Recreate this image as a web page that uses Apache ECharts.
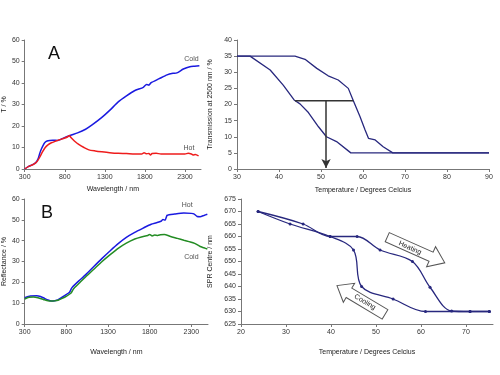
<!DOCTYPE html>
<html>
<head>
<meta charset="utf-8">
<script src="https://cdn.jsdelivr.net/npm/echarts@6/dist/echarts.min.js"></script>
<style>
  html, body { margin: 0; padding: 0; background: #fff; }
  #main { width: 500px; height: 375px; }
</style>
</head>
<body>
<div id="main"></div>
<script>
// panel A: transmission spectra (wavelength nm, T %)
var coldA = [[300,0],[350,1.2],[400,2],[430,2.7],[450,3.5],[470,5],[490,7.5],[511,9.5],[530,11],[552,12.3],[580,13],[613,13.3],[650,13.4],[715,13.3],[760,14],[857,15.5],[960,16.8],[1060,18.5],[1141,20.5],[1263,24],[1367,27.5],[1467,31.2],[1570,34],[1670,36.4],[1780,38],[1820,39.3],[1850,39],[1873,40],[1980,42],[2077,43.8],[2150,44.5],[2199,44.7],[2280,46.5],[2361,47.6],[2420,47.8],[2480,48]];
var hotA = [[300,0],[350,1.2],[400,2],[430,2.6],[460,3.8],[491,5.7],[520,7.8],[552,9.8],[590,11.2],[633,12.2],[690,13],[735,13.6],[800,14.4],[837,15],[857,15.6],[880,14.5],[920,13],[979,11.3],[1040,10],[1101,8.9],[1180,8.4],[1263,8],[1360,7.6],[1467,7.3],[1570,7.2],[1670,7],[1760,7],[1790,7.6],[1815,7.1],[1850,7.2],[1870,6.5],[1890,7.2],[1940,7.3],[2000,7],[2100,7],[2200,7],[2300,7],[2340,7.3],[2380,7],[2400,6.5],[2430,6.8],[2470,6.1]];

// panel B: reflectance spectra
var hotB = [[300,12.6],[367,13.4],[445,13.6],[490,13.2],[524,12.6],[580,11.5],[621,11],[660,11.2],[700,11.6],[740,12.6],[779,13.6],[838,15.2],[860,17],[876,17.9],[950,20.7],[1033,23.7],[1130,27.6],[1229,31.5],[1330,35.3],[1426,38.7],[1520,41.6],[1621,44],[1720,46],[1818,47.9],[1880,48.6],[1935,49.3],[1960,50.2],[1985,49.8],[2010,52.2],[2100,52.8],[2210,53.3],[2300,53.1],[2330,52.9],[2370,51.6],[2406,51.5],[2450,52.1],[2492,52.7]];
var coldB = [[300,12],[350,12.8],[406,13],[460,12.6],[524,11.8],[580,11.1],[621,11],[660,11.1],[700,11.4],[750,12.3],[798,13.3],[857,14.9],[880,16.5],[900,17.5],[960,19.8],[1033,22.7],[1130,26.3],[1229,30],[1330,33.4],[1426,36.4],[1520,38.8],[1621,40.8],[1700,41.8],[1778,42.5],[1800,43],[1830,42.3],[1860,42.7],[1896,42.5],[1930,42.8],[1975,43],[2050,42],[2132,41.1],[2210,40.2],[2288,39.4],[2340,38.7],[2406,37.2],[2450,36.6],[2492,36]];

// top right: transmission at 2500 nm vs temperature
var heatT = [[30,35],[43.8,35],[46.2,34],[49,31.2],[51.7,28.9],[54.1,27.6],[56.5,25],[57.7,21.2],[59.3,16.2],[60.5,12.1],[61.3,9.5],[62.9,9],[64.8,6.9],[67.1,5],[90,5]];
var coolT = [[90,5],[57.1,5],[53.7,8.5],[51.3,10],[49.4,13.1],[47,17.5],[45,20.2],[43.6,21.4],[41,26],[37.9,30.7],[33.1,35],[30,35]];
var midLine = [[43.8,21.2],[57.7,21.2]];
var midArrow = [[51.2,21.2],[51.2,0.3]];

// bottom right: SPR centre vs temperature
var heatS = [[23.8,670],[33.8,665],[39.8,660],[45.8,660],[50.9,654.6],[58.1,650],[62,639.7],[66.8,630.2],[70.9,630],[75.2,630]];
var coolS = [[75.2,630],[70.9,630],[61,630],[53.8,635],[46.8,640],[45,654.6],[39.8,660],[30.9,665],[23.8,670]];

var seriesLabels = [
  {grid: 0, text: 'Cold', at: [2380, 51]},
  {grid: 0, text: 'Hot', at: [2350, 9.6]},
  {grid: 2, text: 'Hot', at: [2250, 57]},
  {grid: 2, text: 'Cold', at: [2300, 32]}
];

var FONT = 'Liberation Sans';
var NAVY = '#28287e';

function valAxis(idx, min, max, interval, name, gap, extra) {
  var ax = {
    type: 'value', gridIndex: idx, min: min, max: max, interval: interval,
    name: name, nameLocation: 'middle', nameGap: gap,
    nameTextStyle: {fontFamily: FONT, fontSize: 7, color: '#222'},
    axisLine: {show: true, lineStyle: {color: '#777', width: 1}},
    axisTick: {show: true, length: 3, lineStyle: {color: '#777'}},
    axisLabel: {fontFamily: FONT, fontSize: 7, color: '#333', margin: 5,
      showMaxLabel: (max - min) % interval === 0,
      formatter: function (v) { return String(v); }},
    splitLine: {show: false}
  };
  if (extra) Object.assign(ax, extra);
  return ax;
}

function arrowPts(L, bw, hw, hl, dir) {
  var p = [[-L/2,-bw],[L/2-hl,-bw],[L/2-hl,-hw],[L/2,0],[L/2-hl,hw],[L/2-hl,bw],[-L/2,bw]];
  return p.map(function (q) { return [q[0] * dir, q[1]]; });
}

var myChart = echarts.init(document.getElementById('main'));

var series = [
  {type: 'line', xAxisIndex: 0, yAxisIndex: 0, data: coldA, showSymbol: false, smooth: 0.2, lineStyle: {color: '#1a1ae0', width: 1.5}, itemStyle: {color: '#1a1ae0'}},
  {type: 'line', xAxisIndex: 0, yAxisIndex: 0, data: hotA, showSymbol: false, smooth: 0.2, lineStyle: {color: '#ee1c1c', width: 1.5}, itemStyle: {color: '#ee1c1c'}},
  {type: 'line', xAxisIndex: 1, yAxisIndex: 1, data: heatT, showSymbol: false, lineStyle: {color: NAVY, width: 1.3}},
  {type: 'line', xAxisIndex: 1, yAxisIndex: 1, data: coolT, showSymbol: false, lineStyle: {color: NAVY, width: 1.3}},
  {type: 'line', xAxisIndex: 1, yAxisIndex: 1, data: midLine, showSymbol: false, lineStyle: {color: '#333', width: 1.5}},
  {type: 'line', xAxisIndex: 1, yAxisIndex: 1, data: [], showSymbol: false,
    markLine: {silent: true, symbol: ['none', 'arrow'], symbolSize: [7, 9], label: {show: false},
      lineStyle: {color: '#333', width: 1.5, type: 'solid'},
      data: [[{coord: midArrow[0]}, {coord: midArrow[1]}]]}},
  {type: 'line', xAxisIndex: 2, yAxisIndex: 2, data: hotB, showSymbol: false, smooth: 0.2, lineStyle: {color: '#1a1ae0', width: 1.5}},
  {type: 'line', xAxisIndex: 2, yAxisIndex: 2, data: coldB, showSymbol: false, smooth: 0.2, lineStyle: {color: '#238c23', width: 1.5}},
  {type: 'line', xAxisIndex: 3, yAxisIndex: 3, data: heatS, smooth: 0.35, symbol: 'circle', symbolSize: 3, lineStyle: {color: NAVY, width: 1.3}, itemStyle: {color: NAVY}},
  {type: 'line', xAxisIndex: 3, yAxisIndex: 3, data: coolS, smooth: 0.35, symbol: 'circle', symbolSize: 3, lineStyle: {color: NAVY, width: 1.3}, itemStyle: {color: NAVY}}
];

seriesLabels.forEach(function (s) {
  series.push({
    type: 'scatter', xAxisIndex: s.grid, yAxisIndex: s.grid, symbolSize: 0, silent: true,
    data: [s.at],
    label: {show: true, position: 'inside', formatter: s.text, fontFamily: FONT, fontSize: 7, color: '#222'}
  });
});

myChart.setOption({
  animation: false,
  grid: [
    {left: 21, top: 40, width: 180, height: 129},
    {left: 237, top: 40, width: 252, height: 129},
    {left: 21, top: 199, width: 187, height: 125},
    {left: 241, top: 199, width: 252, height: 125}
  ],
  xAxis: [
    valAxis(0, 300, 2500, 500, 'Wavelength / nm', 17),
    valAxis(1, 30, 90, 10, 'Temperature / Degrees Celcius', 18),
    valAxis(2, 300, 2500, 500, 'Wavelength / nm', 25),
    valAxis(3, 20, 76, 10, 'Temperature / Degrees Celcius', 25)
  ],
  yAxis: [
    valAxis(0, 0, 60, 10, 'T / %', 12),
    valAxis(1, 0, 40, 5, 'Transmission at 2500 nm / %', 18),
    valAxis(2, 0, 60, 10, 'Reflectance / %', 13),
    valAxis(3, 625, 675, 5, 'SPR Centre / nm', 21)
  ],
  graphic: [
    {type: 'text', left: 48, top: 45, style: {text: 'A', font: '18px ' + FONT, fill: '#111'}},
    {type: 'text', left: 41, top: 204, style: {text: 'B', font: '18px ' + FONT, fill: '#111'}},
    {type: 'polygon', x: 416, y: 250, rotation: -0.42, shape: {points: arrowPts(63, 5, 11, 15, 1)},
      style: {fill: '#fff', stroke: '#555', lineWidth: 1}},
    {type: 'text', x: 410, y: 248, rotation: -0.42, style: {text: 'Heating', font: '7px ' + FONT, fill: '#222', align: 'center', verticalAlign: 'middle'}},
    {type: 'polygon', x: 361, y: 300, rotation: -0.54, shape: {points: arrowPts(56, 5.5, 11, 14, -1)},
      style: {fill: '#fff', stroke: '#555', lineWidth: 1}},
    {type: 'text', x: 365, y: 302, rotation: -0.54, style: {text: 'Cooling', font: '7px ' + FONT, fill: '#222', align: 'center', verticalAlign: 'middle'}}
  ],
  series: series
});
</script>
</body>
</html>
